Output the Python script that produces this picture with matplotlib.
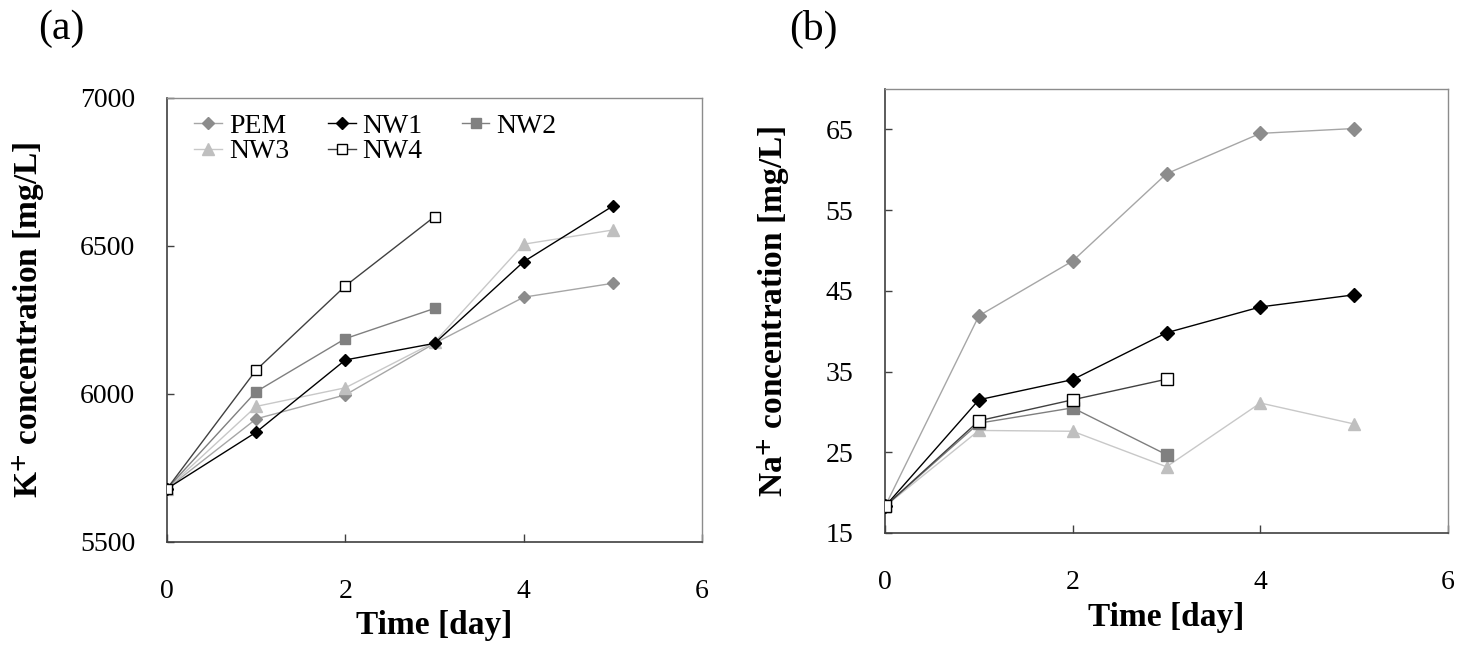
import matplotlib
matplotlib.use("Agg")
import matplotlib.pyplot as plt

plt.rcParams['font.family'] = ['Liberation Serif', 'DejaVu Serif']
plt.rcParams['mathtext.fontset'] = 'stix'

days = [0, 1, 2, 3, 4, 5]
days3 = [0, 1, 2, 3]

# (a) K+ concentration [mg/L]
k_pem = [5680, 5916, 5997, 6171, 6327, 6374]
k_nw1 = [5680, 5871, 6115, 6171, 6447, 6635]
k_nw2 = [5680, 6008, 6187, 6289]
k_nw3 = [5680, 5958, 6021, 6175, 6506, 6554]
k_nw4 = [5680, 6081, 6365, 6599]

# (b) Na+ concentration [mg/L]
na_pem = [18.3, 41.9, 48.7, 59.5, 64.5, 65.1]
na_nw1 = [18.3, 31.5, 34.0, 39.8, 43.0, 44.5]
na_nw2 = [18.3, 28.6, 30.5, 24.7]
na_nw3 = [18.3, 27.7, 27.6, 23.2, 31.1, 28.5]
na_nw4 = [18.3, 28.9, 31.5, 34.05]

k_ticks = [5500, 6000, 6500, 7000]
na_ticks = [15, 25, 35, 45, 55, 65]
x_ticks = [0, 2, 4, 6]

fig = plt.figure(figsize=(14.69, 6.48), dpi=100)
axA = fig.add_axes([0.1137, 0.1636, 0.3642, 0.6852])
axB = fig.add_axes([0.6025, 0.1775, 0.3832, 0.6852])


def draw(ax, pem, nw1, nw2, nw3, nw4, msc=1.0):
    ax.plot(days, pem, color='#a6a6a6', lw=1.0, marker='D', ms=6.2 * msc,
            mfc='#8c8c8c', mec='#8c8c8c', label='PEM', zorder=3)
    ax.plot(days, nw1, color='#000000', lw=1.0, marker='D', ms=6.2 * msc,
            mfc='#000000', mec='#000000', label='NW1', zorder=5)
    ax.plot(days3, nw2, color='#7f7f7f', lw=1.0, marker='s', ms=7.2 * msc,
            mfc='#808080', mec='#808080', label='NW2', zorder=4)
    ax.plot(days, nw3, color='#c8c8c8', lw=1.0, marker='^', ms=8.0 * msc,
            mfc='#bfbfbf', mec='#bfbfbf', label='NW3', zorder=3)
    ax.plot(days3, nw4, color='#404040', lw=1.0, marker='s', ms=7.2 * msc,
            mfc='white', mec='#000000', mew=1.0, label='NW4', zorder=6)
    ax.set_xlim(0, 6)
    ax.set_xticks(x_ticks)
    for s in ['left', 'bottom']:
        ax.spines[s].set_color('#404040')
        ax.spines[s].set_linewidth(1.2)
    for s in ['top', 'right']:
        ax.spines[s].set_color('#8c8c8c')
        ax.spines[s].set_linewidth(1.0)
    ax.tick_params(axis='x', direction='in', length=6, width=1.0,
                   color='#404040', pad=27, labelsize=20)
    ax.tick_params(axis='y', direction='in', length=5, width=1.0,
                   color='#404040', pad=23, labelsize=20)
    ax.set_xlabel('Time [day]', fontsize=24, fontweight='bold')


draw(axA, k_pem, k_nw1, k_nw2, k_nw3, k_nw4)
axA.set_ylim(5500, 7000)
axA.set_yticks(k_ticks)
axA.set_ylabel(r'K$^{\mathbf{+}}$ concentration [mg/L]', fontsize=24, fontweight='bold')
axA.yaxis.set_label_coords(-0.225, 0.5)
axA.xaxis.set_label_coords(0.5, -0.153)

draw(axB, na_pem, na_nw1, na_nw2, na_nw3, na_nw4, msc=1.1)
axB.set_ylim(15, 70)
axB.set_yticks(na_ticks)
axB.set_ylabel(r'Na$^{\mathbf{+}}$ concentration [mg/L]', fontsize=24, fontweight='bold')
axB.yaxis.set_label_coords(-0.165, 0.5)
axB.xaxis.set_label_coords(0.5, -0.155)

# legend in (a)
h, l = axA.get_legend_handles_labels()
order = [0, 3, 1, 4, 2]
axA.legend([h[i] for i in order], [l[i] for i in order], ncol=3,
           loc='upper left', bbox_to_anchor=(0.03, 0.99), frameon=False,
           fontsize=20, handlelength=1.0, handletextpad=0.25,
           columnspacing=1.4, labelspacing=0.0, borderaxespad=0.0)

fig.text(0.026, 0.985, '(a)', fontsize=30, va='top', ha='left')
fig.text(0.537, 0.985, '(b)', fontsize=30, va='top', ha='left')

fig.savefig('out.png', dpi=100)
